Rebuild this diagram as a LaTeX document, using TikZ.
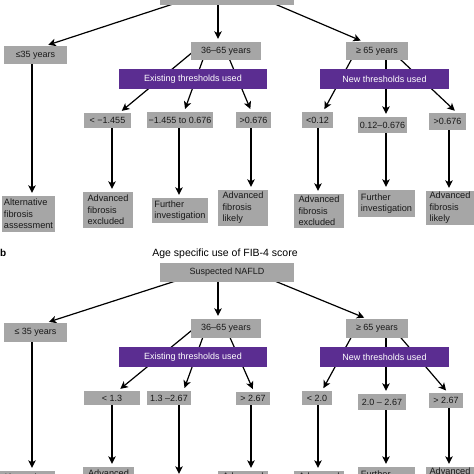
\documentclass[tikz,border=0pt]{standalone}
\usepackage{fontspec}
\setmainfont{Liberation Sans}
\usetikzlibrary{arrows.meta,backgrounds}
\definecolor{boxgray}{RGB}{166,166,166}
\definecolor{thrpurple}{RGB}{91,45,145}

\begin{document}
\begin{tikzpicture}[x=1pt,y=-1pt,
  box/.style={fill=boxgray,text=black!90,inner sep=0pt,font=\fontsize{9}{11.5}\selectfont},
  res/.style={box,align=left,font=\fontsize{9.2}{11.5}\selectfont},
  thr/.style={fill=thrpurple,text=white,inner sep=0pt,font=\fontsize{9}{11}\selectfont},
  arr/.style={line width=1.2pt,shorten >=3pt,-{Stealth[length=7.5pt,width=7.5pt,inset=2pt]}}]
\useasboundingbox (0,0) rectangle (474,474);

% panel a
\node[box,minimum width=134,minimum height=19] (na) at (227,-4.5) {Suspected NAFLD};
\node[box,minimum width=63,minimum height=18] (ya) at (35.5,55) {≤35 years};
\node[box,minimum width=70,minimum height=18] (ma) at (226,51) {36–65 years};
\node[box,minimum width=62,minimum height=18] (oa) at (377,51) {≥ 65 years};
\node[thr,minimum width=148,minimum height=20] (exa) at (193,79) {Existing thresholds used};
\node[thr,minimum width=129,minimum height=20] (nwa) at (384.5,79) {New thresholds used};
\node[box,minimum width=47,minimum height=15] (ta1) at (107.5,120.5) {< −1.455};
\node[box,minimum width=66,minimum height=16] (ta2) at (180,120) {−1.455 to 0.676};
\node[box,minimum width=35,minimum height=16] (ta3) at (253.5,120) {>0.676};
\node[box,minimum width=31,minimum height=16] (ta4) at (317.5,120) {<0.12};
\node[box,minimum width=49,minimum height=16] (ta5) at (382.5,125) {0.12–0.676};
\node[box,minimum width=37,minimum height=17] (ta6) at (447.5,121.5) {>0.676};
\node[res,minimum width=53,minimum height=36] (ra0) at (28.5,214) {Alternative\\fibrosis\\assessment};
\node[res,minimum width=50,minimum height=36] (ra1) at (108,210) {Advanced\\fibrosis\\excluded};
\node[res,minimum width=56,minimum height=25] (ra2) at (180,210.5) {Further\\investigation};
\node[res,minimum width=50,minimum height=36] (ra3) at (243,208) {Advanced\\fibrosis\\likely};
\node[res,minimum width=50,minimum height=34] (ra4) at (319,211) {Advanced\\fibrosis\\excluded};
\node[res,minimum width=57,minimum height=27] (ra5) at (386.5,203.5) {Further\\investigation};
\node[res,minimum width=48,minimum height=34] (ra6) at (450,208) {Advanced\\fibrosis\\likely};

% panel b
\node[font=\bfseries\fontsize{10}{12}\selectfont,anchor=west,inner sep=0pt] (lbl) at (0,253) {b};
\node[font=\fontsize{10.5}{12}\selectfont] (ttl) at (225,254) {Age specific use of FIB-4 score};
\node[box,minimum width=134,minimum height=19] (nb) at (227,272.5) {Suspected NAFLD};
\node[box,minimum width=63,minimum height=19] (yb) at (35.5,332.5) {≤ 35 years};
\node[box,minimum width=70,minimum height=19] (mb) at (226,328.5) {36–65 years};
\node[box,minimum width=62,minimum height=19] (ob) at (377,328.5) {≥ 65 years};
\node[thr,minimum width=148,minimum height=20] (exb) at (193,357) {Existing thresholds used};
\node[thr,minimum width=129,minimum height=20] (nwb) at (384.5,357) {New thresholds used};
\node[box,minimum width=56,minimum height=14] (tb1) at (112,398) {< 1.3};
\node[box,minimum width=44,minimum height=14] (tb2) at (169,398) {1.3 –2.67};
\node[box,minimum width=34,minimum height=13] (tb3) at (253,398.5) {> 2.67};
\node[box,minimum width=30,minimum height=14] (tb4) at (317,398) {< 2.0};
\node[box,minimum width=48,minimum height=16] (tb5) at (382,402) {2.0 – 2.67};
\node[box,minimum width=34,minimum height=15] (tb6) at (446,400.5) {> 2.67};
\node[res,minimum width=55,minimum height=36] (rb0) at (27.5,489) {Alternative\\fibrosis\\assessment};
\node[res,minimum width=51,minimum height=36] (rb1) at (108.5,485) {Advanced\\fibrosis\\excluded};
\node[res,minimum width=56,minimum height=25] (rb2) at (180,489.5) {Further\\investigation};
\node[res,minimum width=50,minimum height=36] (rb3) at (243,489) {Advanced\\fibrosis\\likely};
\node[res,minimum width=50,minimum height=34] (rb4) at (319,488) {Advanced\\fibrosis\\excluded};
\node[res,minimum width=57,minimum height=27] (rb5) at (386.5,480.5) {Further\\investigation};
\node[res,minimum width=48,minimum height=34] (rb6) at (450,484) {Advanced\\fibrosis\\likely};

\begin{scope}[on background layer]
% arrows a
\draw[arr] ([xshift=-28]na.center) -- ([xshift=10]ya.north);
\draw[arr] ([xshift=-9]na.center) -- ([xshift=-8]ma.north);
\draw[arr] ([xshift=28]na.center) -- ([xshift=-13.5]oa.north);
\draw[arr] ([xshift=-32]ma.center) -- ([xshift=12]ta1.north);
\draw[arr] ([xshift=-20]ma.center) -- ([xshift=4]ta2.north);
\draw[arr] (ma.center) -- ([xshift=-2]ta3.north);
\draw[arr] ([xshift=-21]oa.center) -- ([xshift=5.5]ta4.north);
\draw[arr] ([xshift=9]oa.center) -- ([xshift=3.5]ta5.north);
\draw[arr] ([xshift=14.5]oa.center) -- ([xshift=9.5]ta6.north);
\draw[arr] ([xshift=-3.5]ya.south) -- ([xshift=-3.5]ya.south |- ra0.north);
\draw[arr] ([xshift=4.5]ta1.south) -- ([xshift=4.5]ta1.south |- ra1.north);
\draw[arr] ([xshift=-1]ta2.south) -- ([xshift=-1]ta2.south |- ra2.north);
\draw[arr] ([xshift=-2.5]ta3.south) -- ([xshift=-2.5]ta3.south |- ra3.north);
\draw[arr] ([xshift=0.5]ta4.south) -- ([xshift=0.5]ta4.south |- ra4.north);
\draw[arr] ([xshift=3.5]ta5.south) -- ([xshift=3.5]ta5.south |- ra5.north);
\draw[arr] ([xshift=1.5]ta6.south) -- ([xshift=1.5]ta6.south |- ra6.north);
% arrows b
\draw[arr] ([xshift=-25]nb.center) -- ([xshift=10.5]yb.north);
\draw[arr] ([xshift=-9]nb.center) -- ([xshift=-8]mb.north);
\draw[arr] ([xshift=27]nb.center) -- ([xshift=-10]ob.north);
\draw[arr] ([xshift=-32]mb.center) -- ([xshift=6]tb1.north);
\draw[arr] ([xshift=-20]mb.center) -- ([xshift=14.5]tb2.north);
\draw[arr] (mb.center) -- ([xshift=1]tb3.north);
\draw[arr] ([xshift=-21]ob.center) -- ([xshift=5]tb4.north);
\draw[arr] ([xshift=9]ob.center) -- ([xshift=4]tb5.north);
\draw[arr] ([xshift=16]ob.center) -- ([xshift=2]tb6.north);
\draw[arr] ([xshift=-3.5]yb.south) -- ([xshift=-3.5]yb.south |- rb0.north);
\draw[arr] (tb1.south) -- (tb1.south |- rb1.north);
\draw[arr] ([xshift=10]tb2.south) -- ([xshift=10]tb2.south |- rb2.north);
\draw[arr] ([xshift=-2]tb3.south) -- ([xshift=-2]tb3.south |- rb3.north);
\draw[arr] ([xshift=1]tb4.south) -- ([xshift=1]tb4.south |- rb4.north);
\draw[arr] ([xshift=4]tb5.south) -- ([xshift=4]tb5.south |- rb5.north);
\draw[arr] ([xshift=3]tb6.south) -- ([xshift=3]tb6.south |- rb6.north);
\end{scope}
\end{tikzpicture}
\end{document}
